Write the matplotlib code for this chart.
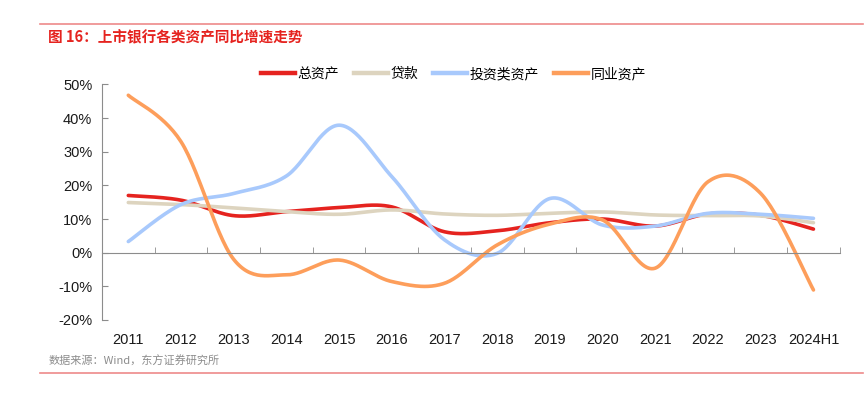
import numpy as np
import matplotlib.pyplot as plt
from matplotlib.lines import Line2D

plt.rcParams['font.family'] = ['Liberation Sans', 'Noto Sans CJK SC', 'DejaVu Sans']
plt.rcParams['axes.unicode_minus'] = False

# Datos (% interanual)
years = ['2011', '2012', '2013', '2014', '2015', '2016', '2017', '2018',
         '2019', '2020', '2021', '2022', '2023', '2024H1']
total_assets = [17.0, 15.6, 11.0, 12.2, 13.4, 13.6, 6.2, 6.5, 8.9, 10.0, 7.9, 11.5, 11.1, 7.0]
loans = [14.9, 14.3, 13.3, 12.2, 11.4, 12.7, 11.5, 11.1, 11.7, 12.1, 11.2, 11.0, 10.9, 8.9]
investments = [3.3, 14.3, 17.6, 22.8, 37.9, 22.6, 3.8, -0.2, 16.1, 8.2, 7.9, 11.7, 11.4, 10.2]
interbank = [46.8, 33.0, -2.0, -6.6, -2.2, -8.6, -9.1, 2.3, 8.5, 9.7, -4.6, 21.1, 17.6, -11.1]

names = ['总资产', '贷款', '投资类资产', '同业资产']
colors = ['#e5231f', '#ddd4bf', '#a8c9fc', '#fd9e5b']


def smooth(y, n=30):
    # curva suavizada tipo Excel (Catmull-Rom con Bezier)
    y = np.asarray(y, dtype=float)
    x = np.arange(len(y), dtype=float)
    px = np.concatenate([[x[0]], x, [x[-1]]])
    py = np.concatenate([[y[0]], y, [y[-1]]])
    xs, ys = [], []
    t = np.linspace(0, 1, n)
    for i in range(len(y) - 1):
        p0x, p1x, p2x, p3x = px[i], px[i + 1], px[i + 2], px[i + 3]
        p0y, p1y, p2y, p3y = py[i], py[i + 1], py[i + 2], py[i + 3]
        c1x, c1y = p1x + (p2x - p0x) / 6, p1y + (p2y - p0y) / 6
        c2x, c2y = p2x - (p3x - p1x) / 6, p2y - (p3y - p1y) / 6
        bx = (1 - t)**3 * p1x + 3 * (1 - t)**2 * t * c1x + 3 * (1 - t) * t**2 * c2x + t**3 * p2x
        by = (1 - t)**3 * p1y + 3 * (1 - t)**2 * t * c1y + 3 * (1 - t) * t**2 * c2y + t**3 * p2y
        xs.extend(bx)
        ys.extend(by)
    return np.array(xs), np.array(ys)


fig = plt.figure(figsize=(8.64, 3.93), dpi=100)
ax = fig.add_axes([0.118, 0.186, 0.854, 0.599])

for serie, c in zip([total_assets, loans, investments, interbank], colors):
    xs, ys = smooth(serie)
    ax.plot(xs, ys, color=c, lw=2.6, solid_capstyle='round')

ax.set_xlim(-0.5, len(years) - 0.5)
ax.set_ylim(-20, 50)
ax.set_yticks(np.arange(-20, 51, 10))
ax.set_yticklabels([f'{v}%' for v in range(-20, 51, 10)])

# eje X en el 0 con marcas entre categorías
ax.spines['bottom'].set_position(('data', 0))
ax.spines['bottom'].set_color('#8c8c8c')
ax.spines['left'].set_color('#8c8c8c')
ax.spines['top'].set_visible(False)
ax.spines['right'].set_visible(False)
ax.set_xticks(np.arange(len(years)))
ax.set_xticklabels(years)
ax.set_xticks(np.arange(len(years) + 1) - 0.5, minor=True)
ax.tick_params(axis='x', which='major', length=0, pad=58, labelsize=10.5, colors='#1a1a1a')
ax.tick_params(axis='x', which='minor', length=4, direction='in', color='#8c8c8c')
ax.tick_params(axis='y', length=4, direction='in', color='#8c8c8c', pad=7,
               labelsize=10.5, labelcolor='#1a1a1a')

handles = [Line2D([0], [0], color=c, lw=3.2) for c in colors]
fig.legend(handles, names, loc='center', bbox_to_anchor=(0.525, 0.812), ncol=4,
           frameon=False, handlelength=2.4, handletextpad=0.2,
           columnspacing=1.1, prop={'family': ['Noto Sans CJK SC'], 'size': 10})

# título y fuente
fig.add_artist(Line2D([0.046, 0.999], [0.938, 0.938], color='#ee8a8a', lw=1.2))
fig.text(0.056, 0.906, '图 16：上市银行各类资产同比增速走势', color='#e5231f',
         fontsize=10.5, fontweight='bold', va='center',
         family=['Noto Sans CJK SC', 'DejaVu Sans'])
fig.text(0.056, 0.08, '数据来源：Wind，东方证券研究所', color='#8c8c8c',
         fontsize=8, va='center', family=['Noto Sans CJK SC', 'DejaVu Sans'])
fig.add_artist(Line2D([0.046, 0.999], [0.051, 0.051], color='#ee8a8a', lw=1.2))

plt.savefig('out.png', dpi=100)
